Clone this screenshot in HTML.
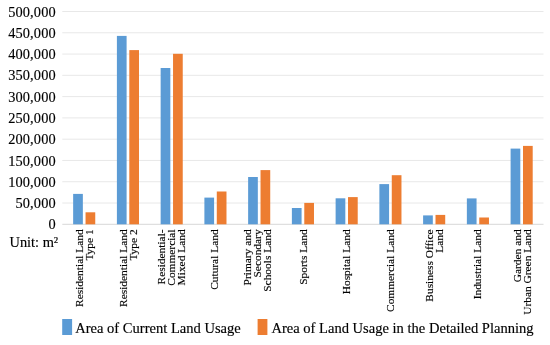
<!DOCTYPE html>
<html><head><meta charset="utf-8"><title>Land usage chart</title>
<style>html,body{margin:0;padding:0;background:#fff}svg{display:block}text{font-family:"Liberation Serif",serif;fill:#000;stroke:#000;stroke-width:0.15px}</style></head>
<body>
<svg width="550" height="345" viewBox="0 0 550 345">
<rect width="550" height="345" fill="#fff"/>
<g stroke="#e8e8e8" stroke-width="1">
<line x1="62.3" y1="224.30" x2="543.5" y2="224.30" stroke="#d8d8d8"/>
<line x1="62.3" y1="203.02" x2="543.5" y2="203.02"/>
<line x1="62.3" y1="181.74" x2="543.5" y2="181.74"/>
<line x1="62.3" y1="160.46" x2="543.5" y2="160.46"/>
<line x1="62.3" y1="139.18" x2="543.5" y2="139.18"/>
<line x1="62.3" y1="117.90" x2="543.5" y2="117.90"/>
<line x1="62.3" y1="96.62" x2="543.5" y2="96.62"/>
<line x1="62.3" y1="75.34" x2="543.5" y2="75.34"/>
<line x1="62.3" y1="54.06" x2="543.5" y2="54.06"/>
<line x1="62.3" y1="32.78" x2="543.5" y2="32.78"/>
<line x1="62.3" y1="11.50" x2="543.5" y2="11.50"/>
</g>
<g font-size="14.35" text-anchor="end" letter-spacing="0.15">
<text x="55.8" y="229.35">0</text>
<text x="55.8" y="208.07">50,000</text>
<text x="55.8" y="186.79">100,000</text>
<text x="55.8" y="165.51">150,000</text>
<text x="55.8" y="144.23">200,000</text>
<text x="55.8" y="122.95">250,000</text>
<text x="55.8" y="101.67">300,000</text>
<text x="55.8" y="80.39">350,000</text>
<text x="55.8" y="59.11">400,000</text>
<text x="55.8" y="37.83">450,000</text>
<text x="55.8" y="16.55">500,000</text>
</g>
<g>
<rect x="73.15" y="193.90" width="9.70" height="30.40" fill="#5b9bd5"/>
<rect x="85.55" y="212.30" width="9.70" height="12.00" fill="#ed7d31"/>
<rect x="116.90" y="35.90" width="9.70" height="188.40" fill="#5b9bd5"/>
<rect x="129.30" y="50.10" width="9.70" height="174.20" fill="#ed7d31"/>
<rect x="160.64" y="68.00" width="9.70" height="156.30" fill="#5b9bd5"/>
<rect x="173.04" y="53.80" width="9.70" height="170.50" fill="#ed7d31"/>
<rect x="204.39" y="197.60" width="9.70" height="26.70" fill="#5b9bd5"/>
<rect x="216.79" y="191.50" width="9.70" height="32.80" fill="#ed7d31"/>
<rect x="248.13" y="177.00" width="9.70" height="47.30" fill="#5b9bd5"/>
<rect x="260.53" y="170.10" width="9.70" height="54.20" fill="#ed7d31"/>
<rect x="291.88" y="208.00" width="9.70" height="16.30" fill="#5b9bd5"/>
<rect x="304.28" y="202.90" width="9.70" height="21.40" fill="#ed7d31"/>
<rect x="335.62" y="198.30" width="9.70" height="26.00" fill="#5b9bd5"/>
<rect x="348.02" y="197.10" width="9.70" height="27.20" fill="#ed7d31"/>
<rect x="379.37" y="184.10" width="9.70" height="40.20" fill="#5b9bd5"/>
<rect x="391.77" y="175.20" width="9.70" height="49.10" fill="#ed7d31"/>
<rect x="423.11" y="215.40" width="9.70" height="8.90" fill="#5b9bd5"/>
<rect x="435.51" y="214.90" width="9.70" height="9.40" fill="#ed7d31"/>
<rect x="466.86" y="198.40" width="9.70" height="25.90" fill="#5b9bd5"/>
<rect x="479.26" y="217.50" width="9.70" height="6.80" fill="#ed7d31"/>
<rect x="510.60" y="148.60" width="9.70" height="75.70" fill="#5b9bd5"/>
<rect x="523.00" y="145.90" width="9.70" height="78.40" fill="#ed7d31"/>
</g>
<text x="9.5" y="246.8" font-size="14.4">Unit: m²</text>
<g font-size="11.4" text-anchor="end">
<text transform="translate(82.82,229.4) rotate(-90)">Residential Land</text>
<text transform="translate(92.92,229.4) rotate(-90)">Type 1</text>
<text transform="translate(126.87,229.4) rotate(-90)">Residential Land</text>
<text transform="translate(136.97,229.4) rotate(-90)">Type 2</text>
<text transform="translate(164.96,229.4) rotate(-90)">Residential-</text>
<text transform="translate(174.96,229.4) rotate(-90)">Commercial</text>
<text transform="translate(184.96,229.4) rotate(-90)">Mixed Land</text>
<text transform="translate(218.21,229.4) rotate(-90)">Cutural Land</text>
<text transform="translate(251.45,229.4) rotate(-90)">Primary and</text>
<text transform="translate(261.45,229.4) rotate(-90)">Secondary</text>
<text transform="translate(271.45,229.4) rotate(-90)">Schools Land</text>
<text transform="translate(306.50,229.4) rotate(-90)">Sports Land</text>
<text transform="translate(350.05,229.4) rotate(-90)">Hospital Land</text>
<text transform="translate(393.89,229.4) rotate(-90)">Commercial Land</text>
<text transform="translate(432.99,229.4) rotate(-90)">Business Office</text>
<text transform="translate(443.09,229.4) rotate(-90)">Land</text>
<text transform="translate(480.88,229.4) rotate(-90)">Industrial Land</text>
<text transform="translate(520.88,229.4) rotate(-90)">Garden and</text>
<text transform="translate(530.98,229.4) rotate(-90)">Urban Green Land</text>
</g>
<rect x="62.2" y="319" width="9.9" height="16" fill="#5b9bd5"/>
<text x="75.2" y="332.5" font-size="14.55">Area of Current Land Usage</text>
<rect x="257.6" y="319" width="9.8" height="16" fill="#ed7d31"/>
<text x="271.4" y="332.5" font-size="14.55">Area of Land Usage in the Detailed Planning</text>
</svg>
</body></html>
